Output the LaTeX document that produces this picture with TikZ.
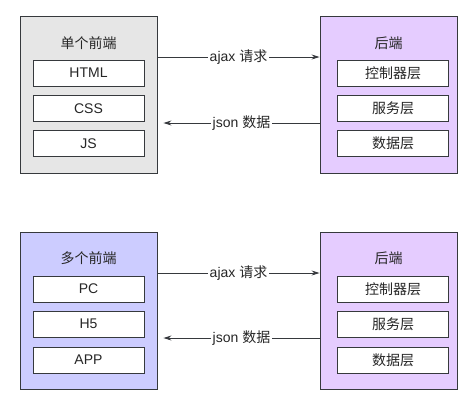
\documentclass[tikz,border=0pt]{standalone}
\usepackage{fontspec}
\setmainfont{Liberation Sans}
\newfontfamily\cjk{Noto Sans CJK SC}
\usetikzlibrary{arrows.meta}
\definecolor{grayfill}{HTML}{E6E6E6}
\definecolor{purplefill}{HTML}{E5CCFF}
\definecolor{bluefill}{HTML}{CCCCFF}
\definecolor{edgegray}{HTML}{36393D}
\begin{document}
\begin{tikzpicture}[x=1pt,y=-1pt]
\tikzstyle{every node}+=[inner sep=0pt, text=black!85, font=\fontsize{14}{16}\selectfont]
\tikzstyle{outer}=[draw=edgegray, line width=0.9pt, minimum width=137pt, minimum height=157pt]
\tikzstyle{layer}=[draw=edgegray, line width=0.9pt, fill=white, minimum width=111pt, minimum height=26pt]
\tikzstyle{link}=[draw=edgegray, line width=0.9pt, -{Stealth[length=8pt,width=5pt]}]
\tikzstyle{tag}=[fill=white, inner sep=2pt]
\useasboundingbox (0,0) rectangle (474,408);
\node [outer, fill=grayfill] (fe1) at (88.5,94.5) {};
\node (fe1title) at (88.5,43) {\cjk 单个前端};
\node [layer] (html) at (88.5,73) {HTML};
\node [layer] (css) at (88.5,108.5) {CSS};
\node [layer] (js) at (88.5,143.5) {JS};
\node [outer, fill=purplefill] (be1) at (388.5,94.5) {};
\node (be1title) at (388.5,43) {\cjk 后端};
\node [layer] (ctrl1) at (393,73) {\cjk 控制器层};
\node [layer] (svc1) at (393,108.5) {\cjk 服务层};
\node [layer] (data1) at (393,143.5) {\cjk 数据层};
\draw [link] ([yshift=37.5]fe1.east) -- node [tag] {ajax {\cjk 请求}} ([yshift=37.5]be1.west);
\draw [link] ([yshift=-28.5]be1.west) -- node [tag] {json {\cjk 数据}} ([yshift=-28.5,xshift=6]fe1.east);
\node [outer, fill=bluefill] (fe2) at (88.5,311) {};
\node (fe2title) at (88.5,258) {\cjk 多个前端};
\node [layer] (pc) at (88.5,289) {PC};
\node [layer] (h5) at (88.5,324) {H5};
\node [layer] (app) at (88.5,360) {APP};
\node [outer, fill=purplefill] (be2) at (388.5,311) {};
\node (be2title) at (388.5,258) {\cjk 后端};
\node [layer] (ctrl2) at (393,289) {\cjk 控制器层};
\node [layer] (svc2) at (393,324) {\cjk 服务层};
\node [layer] (data2) at (393,360) {\cjk 数据层};
\draw [link] ([yshift=38]fe2.east) -- node [tag] {ajax {\cjk 请求}} ([yshift=38]be2.west);
\draw [link] ([yshift=-27]be2.west) -- node [tag] {json {\cjk 数据}} ([yshift=-27,xshift=6]fe2.east);
\end{tikzpicture}
\end{document}
